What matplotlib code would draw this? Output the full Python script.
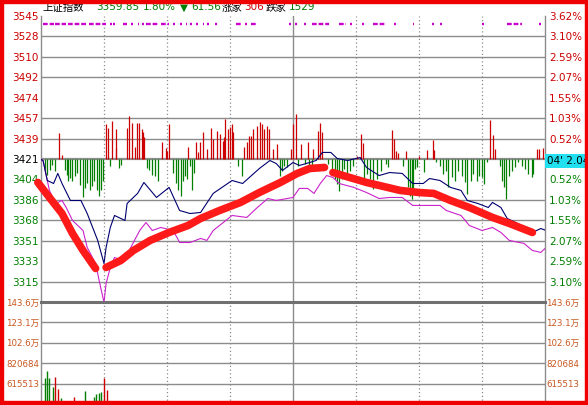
import numpy as np
import matplotlib.pyplot as plt

plt.rcParams['font.family'] = ['DejaVu Sans', 'Noto Sans CJK SC']

# previous close and grid step (0.52 % per line)
base = 3421.41
step = 0.005171

# index line (minute, price)
idx_t = [0, 1, 3, 6, 8, 10, 14, 19, 22, 27, 30, 31, 33, 35, 40, 41, 46, 49, 55, 61,
         66, 71, 76, 82, 91, 96, 104, 109, 112, 115, 120, 123, 128, 131, 134, 138,
         141, 146, 152, 155, 161, 166, 172, 177, 182, 185, 190, 195, 200, 203, 208,
         213, 215, 219, 222, 227, 234, 238, 240]
idx_p = [3421.0, 3420.0, 3402.8, 3400.2, 3408.9, 3400.2, 3385.5, 3385.5, 3374.2,
         3350.9, 3330.9, 3344.8, 3362.1, 3372.5, 3368.2, 3382.9, 3391.6, 3401.1,
         3388.1, 3396.8, 3376.8, 3374.2, 3375.1, 3391.6, 3402.8, 3400.2, 3413.2,
         3420.1, 3417.5, 3411.5, 3418.4, 3415.8, 3418.4, 3420.1, 3427.1, 3427.1,
         3421.9, 3420.1, 3422.7, 3414.1, 3407.1, 3409.7, 3408.9, 3400.2, 3400.2,
         3404.5, 3402.8, 3396.8, 3394.2, 3385.5, 3382.9, 3379.4, 3383.8, 3379.4,
         3369.9, 3365.6, 3357.8, 3361.2, 3359.85]

# second (magenta) index line
avg_t = [0, 1, 4, 7, 10, 12, 15, 20, 22, 26, 28, 30, 31, 33, 35, 39, 42, 47, 50, 53,
         57, 63, 66, 71, 76, 79, 82, 85, 91, 98, 103, 108, 112, 120, 123, 127, 130,
         133, 136, 139, 142, 149, 155, 161, 166, 172, 177, 182, 190, 193, 200, 204,
         210, 215, 219, 223, 230, 234, 238, 240]
avg_p = [3421.0, 3420.0, 3394.2, 3382.9, 3385.5, 3379.4, 3368.2, 3359.5, 3344.8,
         3330.9, 3313.6, 3297.2, 3313.6, 3327.5, 3336.1, 3333.5, 3342.2, 3359.5,
         3366.4, 3359.5, 3362.1, 3359.5, 3349.1, 3349.1, 3352.6, 3350.9, 3359.5,
         3363.8, 3372.5, 3370.8, 3379.4, 3387.2, 3385.5, 3388.1, 3395.9, 3395.9,
         3391.6, 3400.2, 3407.1, 3405.4, 3400.2, 3396.8, 3392.4, 3387.2, 3388.1,
         3388.1, 3381.2, 3381.2, 3381.2, 3376.8, 3372.5, 3363.8, 3359.5, 3362.1,
         3357.8, 3350.9, 3348.3, 3342.2, 3340.5, 3343.9]

# hand-drawn red strokes
s1_t = [-1.5, 4, 10, 15, 20, 26]
s1_p = [3401.1, 3388.1, 3374.2, 3356.9, 3342.2, 3326.6]
s2_t = [31, 38, 44, 52, 61, 70, 76, 85, 95, 104, 114, 122, 128, 135]
s2_p = [3327.5, 3333.5, 3342.2, 3350.9, 3357.8, 3363.8, 3369.9, 3376.8, 3383.8,
        3392.4, 3401.1, 3408.9, 3413.2, 3414.1]
s3_t = [139, 147, 155, 165, 171, 180, 187, 195, 204, 215, 223, 234]
s3_p = [3409.7, 3405.4, 3401.1, 3396.8, 3394.2, 3392.4, 3391.6, 3385.5, 3379.4,
        3370.8, 3365.6, 3357.8]

# breadth bars above the previous close (minute, points)
up_t = [8.4, 9.9, 31.0, 32.0, 34.0, 35.6, 35.9, 41.1, 42.0, 43.2, 44.9, 45.7, 46.8,
        48.2, 48.7, 49.2, 57.8, 59.4, 59.9, 61.1, 70.1, 73.8, 74.6, 75.7, 77.3, 78.9,
        81.0, 82.0, 83.7, 85.2, 86.5, 87.3, 87.8, 89.2, 90.0, 90.8, 91.6, 96.8, 98.0,
        99.0, 100.0, 101.1, 102.7, 104.3, 105.4, 106.3, 107.5, 108.7, 110.6, 112.2,
        119.0, 120.1, 121.3, 123.7, 127.0, 129.7, 132.0, 132.9, 133.7, 150.3, 152.4,
        153.2, 167.3, 168.2, 169.0, 170.1, 173.7, 180.1, 184.0, 186.5, 187.3, 213.8,
        215.4, 216.2, 236.0, 237.3, 239.0]
up_v = [22.5, 3.5, 30.3, 26.8, 32.9, 26.0, 9.5, 26.8, 37.2, 31.2, 10.4, 31.2, 31.2,
        26.0, 23.4, 19.1, 14.7, 9.5, 6.9, 30.3, 10.4, 14.7, 6.1, 14.7, 23.4, 8.7,
        26.8, 17.3, 24.2, 21.7, 15.6, 19.1, 34.6, 26.0, 27.7, 30.3, 23.4, 10.4, 14.7,
        19.9, 19.9, 26.0, 28.6, 32.0, 30.3, 26.0, 28.6, 26.0, 8.7, 13.0,
        8.7, 30.3, 39.0, 13.0, 14.7, 8.7, 24.2, 31.2, 23.4, 2.6, 21.7,
        13.9, 25.1, 17.3, 6.9, 5.2, 6.9, 2.6, 7.8, 16.5, 7.8, 33.8,
        20.8, 8.7, 8.7, 8.7, 9.5]

# breadth bars below the previous close (minute, points)
dn_t = [1.9, 2.7, 4.3, 5.1, 6.7, 11.4, 12.2, 13.0, 13.8, 14.6, 16.2, 17.0, 18.6, 20.1,
        21.0, 22.0, 23.3, 24.4, 25.4, 26.5, 27.8, 28.6, 29.7, 32.9, 37.3, 38.1, 50.3,
        51.4, 52.7, 54.3, 55.9, 63.0, 64.1, 65.4, 66.5, 67.5, 68.6, 69.4, 71.0, 72.0,
        73.0, 94.0, 95.6, 113.8, 114.6, 115.7, 117.3, 122.3, 125.7, 127.8, 128.9,
        136.8, 138.4, 140.0, 140.8, 142.0, 143.2, 144.4, 145.6, 147.1, 148.7, 153.8,
        155.1, 156.7, 158.2, 159.9, 161.8, 164.3, 165.4, 172.2, 174.9, 175.7, 176.5,
        177.3, 178.1, 179.2, 182.5, 188.1, 190.0, 191.6, 192.9, 194.0, 195.6, 197.1,
        198.7, 200.3, 201.9, 203.0, 204.6, 205.9, 207.5, 208.6, 209.9, 211.1, 212.2,
        218.6, 219.4, 220.5, 221.4, 222.9, 224.1, 225.7, 227.3, 228.9, 230.5, 232.0,
        233.7, 234.4]
dn_v = [9.5, 13.9, 9.5, 5.2, 10.4, 9.5, 13.9, 19.1, 16.5, 19.1, 14.7, 12.1, 22.5, 32.9,
        25.1, 20.8, 26.8, 23.4, 19.1, 26.8, 32.0, 26.8, 19.1, 6.1, 7.8, 5.2, 7.8,
        9.5, 13.9, 14.7, 19.1, 12.1, 20.8, 26.8, 32.0, 19.1, 14.7, 17.3, 6.1, 26.8,
        12.1, 6.1, 14.7, 14.7, 10.4, 6.1, 6.9, 6.1, 4.3, 6.1, 6.1,
        4.3, 11.3, 17.3, 21.7, 27.7, 17.3, 8.7, 15.6, 10.4, 6.1, 19.1,
        13.0, 17.3, 26.0, 17.3, 10.4, 4.3, 6.9, 6.1, 24.2, 32.0, 34.6,
        30.3, 8.7, 6.9, 11.3, 2.6, 6.1, 13.0, 10.4, 24.2, 15.6, 19.1,
        10.4, 14.7, 19.9, 30.3, 19.1, 13.0, 19.1, 14.7, 15.6, 21.7, 2.6,
        6.1, 19.1, 24.2, 34.6, 14.7, 10.4, 6.9, 2.6, 6.1, 8.7, 13.0,
        15.6, 13.0]

# volume (minute, shares, rising minute?)
vol_t = [1.9, 3.0, 3.9, 5.9, 6.9, 8.2, 9.3, 15.9, 21.1, 25.0, 26.3, 27.5, 28.8, 30.1, 31.3]
vol_v = [667600, 740600, 667600, 580500, 680600, 560500, 470400, 480400, 543500,
         477400, 510500, 520500, 533500, 668600, 547500]
vol_up = [False, False, False, False, True, True, False, True, False,
          False, False, False, False, True, True]

# signal marks along the top (minute ranges)
sig_ranges = [(1, 6), (6.5, 12), (13, 22), (23, 31), (33, 33.8), (34.3, 35), (39, 41),
              (43, 43.6), (46, 46.6), (48, 49), (50, 56), (57, 61), (63, 64), (66, 67),
              (69, 69.6), (71, 72), (74, 74.6), (77, 77.6), (79, 80), (83, 84),
              (93, 95), (97, 98), (100, 103), (118, 119), (121, 122), (125, 126),
              (129, 137), (142, 145), (147, 148), (153, 153.6), (158, 164), (168, 169),
              (177, 177.6), (186, 187), (190, 191), (210, 211), (222, 229), (237, 238)]

price_labels = ['3545', '3528', '3510', '3492', '3474', '3457', '3439', '3421',
                '3404', '3386', '3368', '3351', '3333', '3315']
pct_labels = ['3.62%', '3.10%', '2.59%', '2.07%', '1.55%', '1.03%', '0.52%', '',
              '0.52%', '1.03%', '1.55%', '2.07%', '2.59%', '3.10%']
vol_ticks = [1436197, 1231026, 1025855, 820684, 615513]
vol_labels = ['143.6万', '123.1万', '102.6万', '820684', '615513']

RED = '#cc0000'
GREEN = '#007f00'
ORANGE = '#c8561e'
GRID = '#8c8c8c'

W, H = 588, 405
fig = plt.figure(figsize=(W / 100, H / 100), dpi=100)
ax = fig.add_axes([41 / W, (H - 302) / H, 504 / W, 286 / H])
axv = fig.add_axes([41 / W, (H - 404) / H, 504 / W, 102 / H])

levels = [base * (1 + k * step) for k in range(7, -7, -1)]
ax.set_xlim(0, 240)
ax.set_ylim(base * (1 - 7 * step), levels[0])
axv.set_xlim(0, 240)
axv.set_ylim(vol_ticks[-1] - 205171, vol_ticks[0])

# horizontal grid (some lines are skipped on the original)
for k, lv in zip(range(7, -7, -1), levels):
    if k in (6, 5, 4, 2, 1, -2, -3, -4, -6):
        ax.axhline(lv, color=GRID, lw=1.0, zorder=1)
ax.axhline(base, color=GRID, lw=1.6, zorder=1)
for v in vol_ticks[1:]:
    axv.axhline(v, color=GRID, lw=1.0, zorder=1)
axv.axhline(vol_ticks[0], color='#707070', lw=2.2, zorder=4, clip_on=False)

# vertical grid every 30 minutes
for a in (ax, axv):
    for t in range(30, 240, 30):
        if t == 120:
            a.axvline(t, color=GRID, lw=1.0, zorder=1)
        else:
            a.axvline(t, color=GRID, lw=0.9, ls=(0, (1, 2)), zorder=1)

# breadth bars
ax.vlines(up_t, base, [base + v for v in up_v], color=RED, lw=0.9, zorder=2)
ax.vlines(dn_t, [base - v for v in dn_v], base, color=GREEN, lw=0.9, zorder=2)

# signal marks
sig_y = base * (1 + 7 * step) - 7
for a0, a1 in sig_ranges:
    ax.plot([a0, a1], [sig_y, sig_y], color='#cc00cc', lw=1.7, ls=(0, (2, 0.8)),
            solid_capstyle='butt', zorder=3)

# index lines
ax.plot(avg_t, avg_p, color='#cc22cc', lw=0.8, zorder=3)
ax.plot(idx_t, idx_p, color='#000070', lw=0.8, zorder=3)

# hand-drawn strokes
for st, sp in ((s1_t, s1_p), (s2_t, s2_p), (s3_t, s3_p)):
    ax.plot(st, sp, color='#ff1a1a', lw=5.5, solid_capstyle='round',
            solid_joinstyle='round', zorder=5, clip_on=False)

# volume bars
axv.vlines(vol_t, axv.get_ylim()[0], vol_v,
           color=[RED if u else GREEN for u in vol_up], lw=1.0, zorder=2)

# axes decoration
for a in (ax, axv):
    a.set_facecolor('white')
    for s in ('top', 'bottom'):
        a.spines[s].set_visible(False)
    for s in ('left', 'right'):
        a.spines[s].set_color(GRID)
        a.spines[s].set_linewidth(1.0)
    a.set_xticks([])
    a.tick_params(axis='y', length=0, labelsize=7.5, pad=2,
                  labelleft=True, labelright=True)

ax.set_yticks(levels)
ax.set_yticklabels(price_labels)
for i, lab in enumerate(ax.get_yticklabels()):
    lab.set_color(RED if i < 7 else ('black' if i == 7 else GREEN))
ax.tick_params(axis='y', labelright=False)
axr = ax.twinx()
axr.set_ylim(ax.get_ylim())
axr.set_yticks(levels)
axr.set_yticklabels(pct_labels)
axr.tick_params(axis='y', length=0, labelsize=7.5, pad=3)
for i, lab in enumerate(axr.get_yticklabels()):
    lab.set_color(RED if i < 7 else GREEN)
for s in axr.spines.values():
    s.set_visible(False)

axv.set_yticks(vol_ticks)
axv.set_yticklabels(vol_labels)
for lab in axv.get_yticklabels():
    lab.set_color(ORANGE)
axv.tick_params(axis='y', labelsize=6.2, pad=1)

# current price tag on the right
fig.text(547 / W, 1 - 161 / H, "04' 2.04", fontsize=7.5, color='black',
         va='center', ha='left',
         bbox=dict(boxstyle='square,pad=0.15', fc='#22e0f0', ec='none'))

# header
header = [('上证指数', 42, 'black'), ('3359.85', 96, GREEN), ('1.80%', 143, GREEN),
          ('▼', 180, GREEN), ('61.56', 191, GREEN), ('涨家', 222, 'black'),
          ('306', 244, RED), ('跌家', 266, 'black'), ('1529', 289, GREEN)]
for txt, x, c in header:
    fig.text(x / W, 1 - 7.5 / H, txt, fontsize=7.5, color=c, va='center', ha='left')

# red frame
for rect in ([0, 0, 3 / W, 1], [0, 1 - 3 / H, 1, 3 / H], [1 - 3 / W, 0, 3 / W, 1],
             [0, 0, 1, 4 / H]):
    fig.patches.append(plt.Rectangle(rect[:2], rect[2], rect[3], color='#ee0000',
                                     transform=fig.transFigure, zorder=10))

fig.savefig('out.png', dpi=100, facecolor='white')
